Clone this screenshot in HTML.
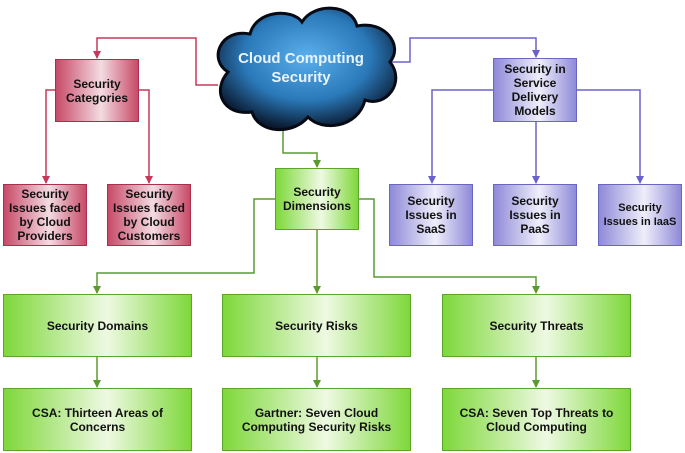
<!DOCTYPE html>
<html><head><style>
body{margin:0;background:#fff;width:685px;height:453px;overflow:hidden;position:relative;font-family:"Liberation Sans",sans-serif}
.b{position:absolute;box-sizing:border-box;display:flex;align-items:center;justify-content:center;text-align:center;font-weight:bold;font-size:12px;line-height:14px;color:#111}
.r{background:linear-gradient(90deg,#c84a68,#f3dbe2 55%,#c84a68);border:1px solid #a8304c}
.p{background:linear-gradient(90deg,#8f8ad8,#efeefa 55%,#8f8ad8);border:1px solid #6c66c0}
.g{background:linear-gradient(90deg,#7ed83a,#eef9e2 55%,#7ed83a);border:1px solid #5aa52a}
svg{position:absolute;left:0;top:0}
</style></head><body>
<svg width="685" height="453">
<defs>
<radialGradient id="cg" cx="50%" cy="40%" r="60%"><stop offset="0" stop-color="#5ab0ec"/><stop offset="0.6" stop-color="#2a78b8"/><stop offset="1" stop-color="#0a1a30"/></radialGradient>
<marker id="mr" markerWidth="8" markerHeight="8" refX="7" refY="4" orient="auto" markerUnits="userSpaceOnUse"><path d="M0,0 L8,4 L0,8z" fill="#c8385a"/></marker>
<marker id="mp" markerWidth="8" markerHeight="8" refX="7" refY="4" orient="auto" markerUnits="userSpaceOnUse"><path d="M0,0 L8,4 L0,8z" fill="#6a62cc"/></marker>
<marker id="mg" markerWidth="8" markerHeight="8" refX="7" refY="4" orient="auto" markerUnits="userSpaceOnUse"><path d="M0,0 L8,4 L0,8z" fill="#5a9a30"/></marker>
</defs>
<g fill="none" stroke-width="1.5">
<g stroke="#c8385a">
<polyline points="218,85 196,85 196,38 97,38 97,58" marker-end="url(#mr)"/>
<polyline points="55,90 46,90 46,183" marker-end="url(#mr)"/>
<polyline points="138,90 149,90 149,183" marker-end="url(#mr)"/>
</g>
<g stroke="#6a62cc">
<polyline points="392,62 410,62 410,38 536,38 536,57" marker-end="url(#mp)"/>
<polyline points="493,90 432,90 432,183" marker-end="url(#mp)"/>
<polyline points="536,122 536,183" marker-end="url(#mp)"/>
<polyline points="577,90 640,90 640,183" marker-end="url(#mp)"/>
</g>
<g stroke="#5a9a30">
<polyline points="283,130 283,153 317,153 317,167" marker-end="url(#mg)"/>
<polyline points="275,199 254,199 254,273 97,273 97,293" marker-end="url(#mg)"/>
<polyline points="317,230 317,293" marker-end="url(#mg)"/>
<polyline points="358,199 374,199 374,277 536,277 536,293" marker-end="url(#mg)"/>
<polyline points="97,357 97,387" marker-end="url(#mg)"/>
<polyline points="317,357 317,387" marker-end="url(#mg)"/>
<polyline points="536,357 536,387" marker-end="url(#mg)"/>
</g>
</g>
<g fill="url(#cg)" stroke="#050a15" stroke-width="3">
<path d="M228,72 C208,60 220,28 250,34 C256,10 292,8 302,22 C314,2 352,4 357,26 C384,20 404,45 390,62 C406,82 386,108 365,100 C358,128 322,132 308,117 C292,136 258,133 252,112 C222,116 212,90 228,72Z"/>
</g>
<text x="301" y="63" text-anchor="middle" font-family="Liberation Sans" font-weight="bold" font-size="15" fill="#e8f4ff">Cloud Computing</text>
<text x="301" y="82" text-anchor="middle" font-family="Liberation Sans" font-weight="bold" font-size="15" fill="#e8f4ff">Security</text>
</svg>
<div class="b r" style="left:55px;top:59px;width:84px;height:63px">Security<br>Categories</div>
<div class="b r" style="left:3px;top:184px;width:84px;height:62px">Security<br>Issues faced<br>by Cloud<br>Providers</div>
<div class="b r" style="left:107px;top:184px;width:84px;height:62px">Security<br>Issues faced<br>by Cloud<br>Customers</div>
<div class="b p" style="left:493px;top:58px;width:84px;height:64px">Security in<br>Service<br>Delivery<br>Models</div>
<div class="b p" style="left:389px;top:184px;width:84px;height:62px">Security<br>Issues in<br>SaaS</div>
<div class="b p" style="left:493px;top:184px;width:84px;height:62px">Security<br>Issues in<br>PaaS</div>
<div class="b p" style="left:598px;top:184px;width:84px;height:62px;font-size:11px">Security<br>Issues in IaaS</div>
<div class="b g" style="left:275px;top:168px;width:84px;height:62px">Security<br>Dimensions</div>
<div class="b g" style="left:3px;top:294px;width:189px;height:63px">Security Domains</div>
<div class="b g" style="left:222px;top:294px;width:189px;height:63px">Security Risks</div>
<div class="b g" style="left:442px;top:294px;width:189px;height:63px">Security Threats</div>
<div class="b g" style="left:3px;top:388px;width:189px;height:63px">CSA: Thirteen Areas of<br>Concerns</div>
<div class="b g" style="left:222px;top:388px;width:189px;height:63px">Gartner: Seven Cloud<br>Computing Security Risks</div>
<div class="b g" style="left:442px;top:388px;width:189px;height:63px">CSA: Seven Top Threats to<br>Cloud Computing</div>
</body></html>
